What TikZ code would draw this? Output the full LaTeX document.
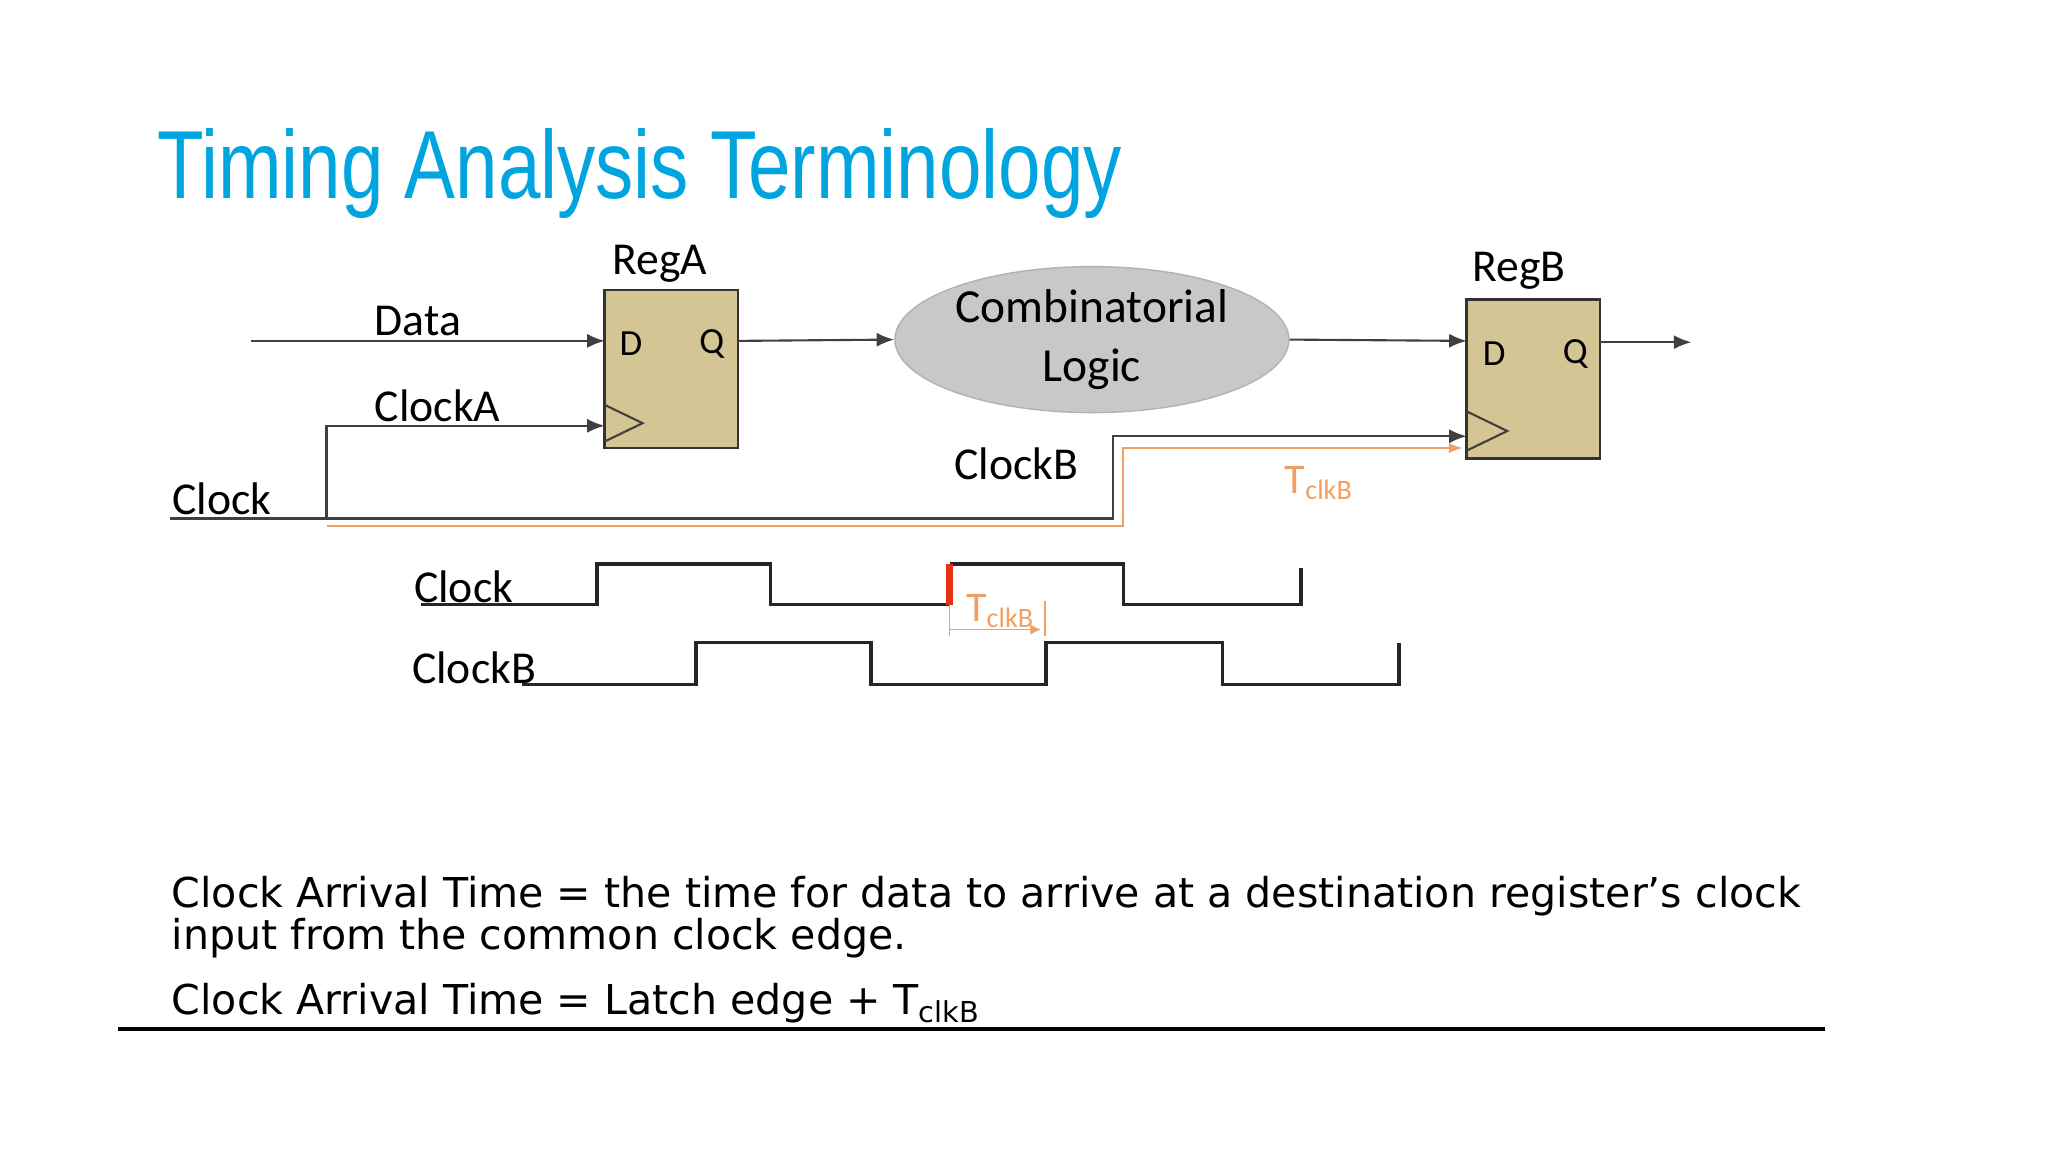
\documentclass[tikz,border=0pt]{standalone}
\usepackage{fontspec}
\setmainfont{Carlito}
\newfontfamily\titlefont{Liberation Sans}
\newfontfamily\bodyfont{DejaVu Sans}
\usetikzlibrary{arrows.meta,shapes.geometric}
\definecolor{titleblue}{RGB}{0,164,222}
\definecolor{regtan}{RGB}{212,197,148}
\definecolor{logicgray}{RGB}{200,200,200}
\definecolor{tclk}{RGB}{240,160,100}
\definecolor{edgered}{RGB}{230,50,20}
\begin{document}
\begin{tikzpicture}[x=0.013061cm,y=-0.013061cm,
  wire/.style={draw=black!75,line width=0.6pt},
  sig/.style={wire,-{Latex[length=5pt,width=4pt]}},
  reg/.style={draw=black!80,fill=regtan,line width=0.8pt},
  lbl/.style={font=\fontsize{13}{15}\selectfont,inner sep=0pt},
  pin/.style={font=\fontsize{10.5}{12}\selectfont,inner sep=0pt},
  wave/.style={draw=black!85,line width=1pt},
  orange/.style={draw=tclk,line width=0.6pt},
  body/.style={anchor=base west,inner sep=0pt,font=\bodyfont\fontsize{11.7}{14}\selectfont}]
\useasboundingbox (0,0) rectangle (1568,882);
% title
\node[anchor=base west,inner sep=0pt,text=titleblue,xscale=0.79,
  font=\titlefont\fontsize{27.5}{32}\selectfont] (title) at (120,152) {Timing Analysis Terminology};
% registers
\draw[reg] (463,222) rectangle (565,343);
\node[lbl,anchor=south] (regAl) at (505,217) {RegA};
\node[pin] (dA) at (483,263) {D};
\node[pin] (qA) at (545,263) {Q};
\draw[wire] (463,310) -- (492,324) -- (463,338);
\draw[reg] (1123,229) rectangle (1225,351);
\node[lbl,anchor=south] (regBl) at (1163,222) {RegB};
\node[pin] (dB) at (1144,271) {D};
\node[pin] (qB) at (1206,271) {Q};
\draw[wire] (1123,315) -- (1154,330) -- (1123,345);
% logic
\node[ellipse,draw=black!30,fill=logicgray,minimum width=3.94cm,minimum height=1.46cm,
  align=center,inner sep=0pt,font=\fontsize{13.5}{17}\selectfont] (logic) at (836,260) {Combinatorial\\Logic};
% data path
\coordinate (din) at (192,261);
\coordinate (dAin) at (463,261);
\coordinate (qAout) at (565,261);
\coordinate (dBin) at (1123,261);
\coordinate (qBout) at (1225,262);
\coordinate (out) at (1295,262);
\draw[sig] (din) -- (dAin);
\draw[sig] (qAout) -- (logic.west);
\draw[sig] (logic.east) -- (dBin);
\draw[sig] (qBout) -- (out);
\node[lbl] (data) at (320,246) {Data};
% clock tree
\coordinate (clkin) at (130,397);
\coordinate (split) at (250,397);
\coordinate (clkAin) at (463,326);
\coordinate (clkBin) at (1123,334);
\draw[sig] (clkin) -- (852,397) |- (clkBin);
\draw[sig] (split) |- (clkAin);
\node[lbl] (clkAl) at (335,311) {ClockA};
\node[lbl] (clkl) at (170,382) {Clock};
\node[lbl] (clkBl) at (778,355) {ClockB};
\coordinate (oA) at (250,403);
\coordinate (oB) at (1120,343);
\draw[orange,-{Latex[length=4pt,width=3pt]}] (oA) -- (860,403) |- (oB);
\node[text=tclk,inner sep=0pt,font=\fontsize{12}{14}\selectfont] (tB) at (1010,370) {T\textsubscript{clkB}};
% waveforms
\node[lbl] (wclk) at (355,449) {Clock};
\node[lbl] (wclkB) at (363,511) {ClockB};
\draw[wave] (322,463) -- (457,463) -- (457,432) -- (590,432) -- (590,463) -- (727,463)
  (727,432) -- (860,432) -- (860,463) -- (996,463) -- (996,435);
\draw[draw=edgered,line width=2.2pt] (727,463) -- (727,432);
\draw[wave] (400,524) -- (533,524) -- (533,492) -- (667,492) -- (667,524) -- (801,524)
  -- (801,492) -- (936,492) -- (936,524) -- (1071,524) -- (1071,492);
\coordinate (ta) at (727,482);
\coordinate (tb) at (797,482);
\draw[orange,line width=0.4pt] (727,463) -- (727,487) (800,460) -- (800,487);
\draw[orange,line width=0.4pt,-{Latex[length=3pt,width=3pt]}] (ta) -- (tb);
\node[text=tclk,inner sep=0pt,font=\fontsize{12}{14}\selectfont] (tA) at (766,468) {T\textsubscript{clkB}};
% text
\node[body] (def1) at (131,695) {Clock Arrival Time = the time for data to arrive at a destination register’s clock};
\node[body] (def2) at (131,727) {input from the common clock edge.};
\node[body] (eq) at (131,777) {Clock Arrival Time = Latch edge + T\textsubscript{clkB}};
\coordinate (r1) at (90,788);
\coordinate (r2) at (1397,788);
\draw[black,line width=1pt] (r1) -- (r2);
\end{tikzpicture}
\end{document}
